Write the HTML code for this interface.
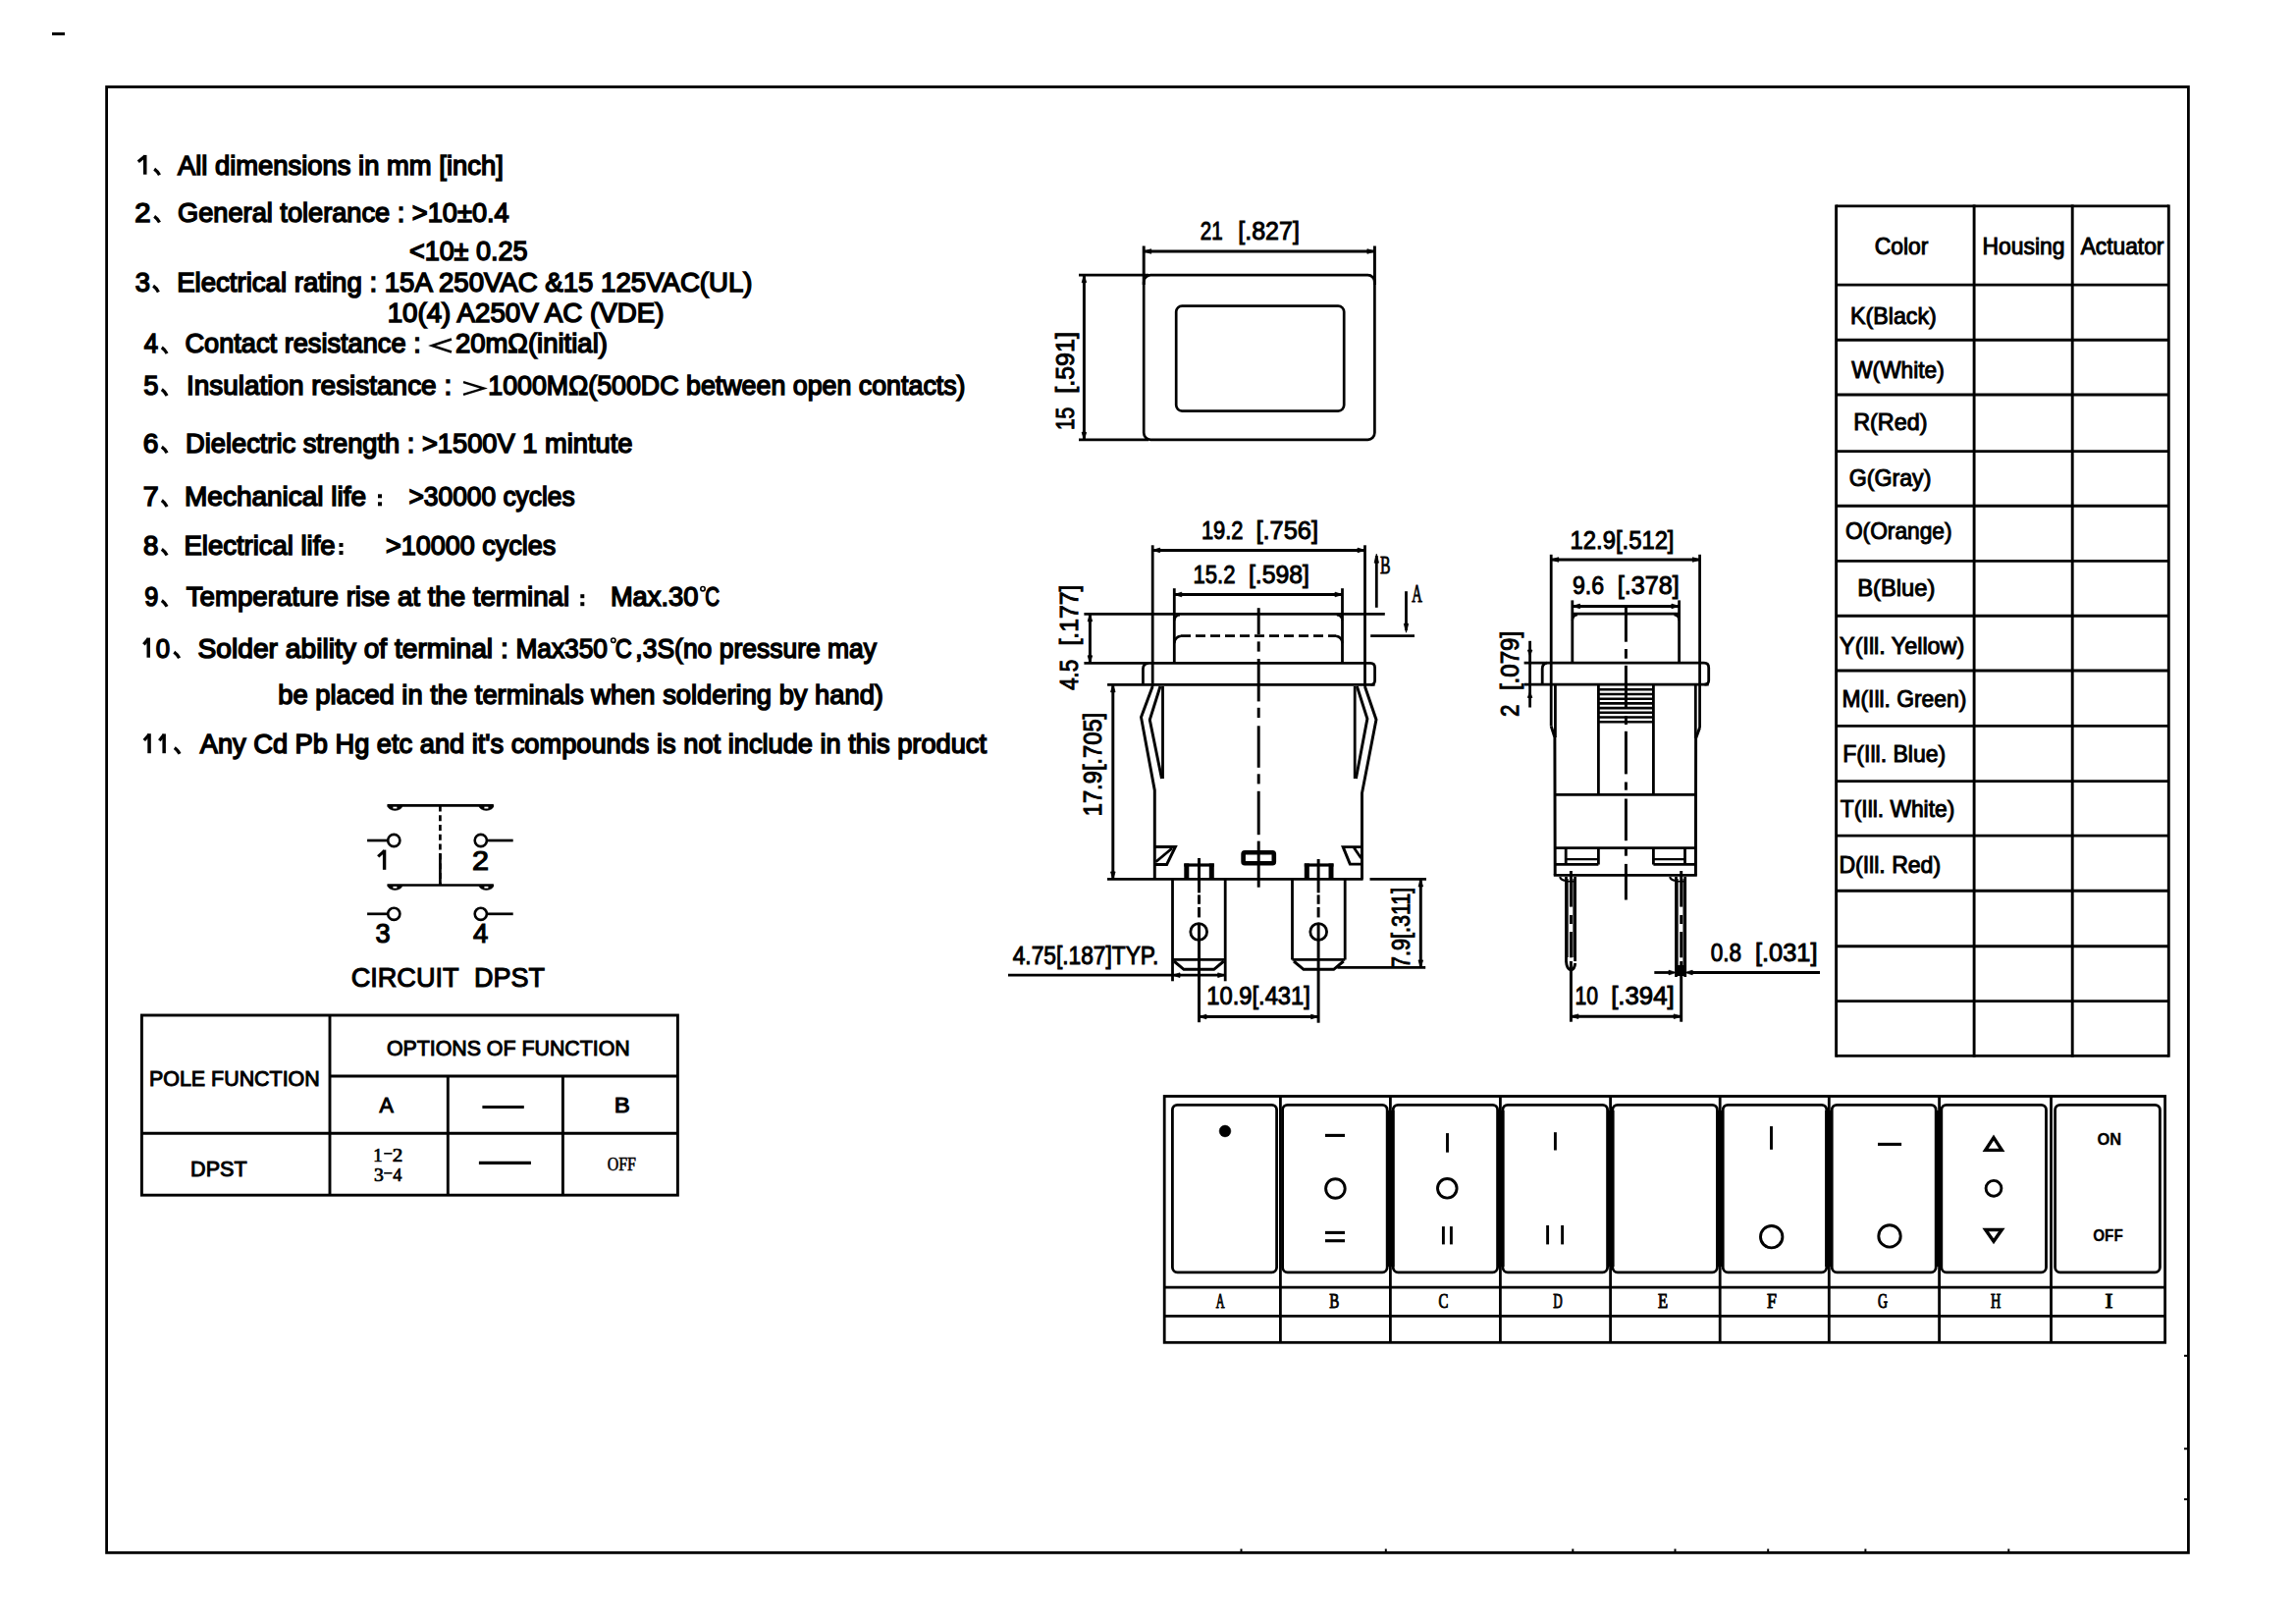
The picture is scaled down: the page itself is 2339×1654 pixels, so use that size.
<!DOCTYPE html>
<html><head><meta charset="utf-8"><title>Switch Drawing</title>
<style>html,body{margin:0;padding:0;background:#fff;} svg{display:block;}</style></head>
<body><svg width="2339" height="1654" viewBox="0 0 2339 1654">
<g stroke="#000" fill="none" stroke-linecap="butt">
<rect x="53" y="33" width="13" height="3" fill="#000" stroke="none"/>
<rect x="108.6" y="88.5" width="2120.8" height="1492.9" rx="0" stroke-width="2.8" fill="none"/>
<line x1="147.75" y1="157.90" x2="147.75" y2="177.70" stroke-width="3.5"/>
<line x1="140.80" y1="164.70" x2="147.75" y2="158.90" stroke-width="3.3"/>
<path d="M157.2,172.1 Q160.4,174.3 162.5,178.3" stroke-width="3.3" fill="none"/>
<path d="M157.2,220.4 Q160.4,222.6 162.5,226.6" stroke-width="3.3" fill="none"/>
<path d="M156.1,291.2 Q159.3,293.4 161.4,297.4" stroke-width="3.3" fill="none"/>
<path d="M164.8,353.8 Q168.0,356.0 170.1,360.0" stroke-width="3.3" fill="none"/>
<polyline points="460,345.5 440,352.0 460,358.5" stroke-width="2.4" fill="none"/>
<path d="M164.8,396.7 Q168.0,398.9 170.1,402.9" stroke-width="3.3" fill="none"/>
<polyline points="472,389.2 492.8,395.54999999999995 472,401.9" stroke-width="2.4" fill="none"/>
<path d="M164.8,455.1 Q168.0,457.3 170.1,461.3" stroke-width="3.3" fill="none"/>
<path d="M164.8,509.7 Q168.0,511.9 170.1,515.9" stroke-width="3.3" fill="none"/>
<rect x="385.0" y="503.3" width="4" height="4" fill="#000" stroke="none"/>
<rect x="385.0" y="511.3" width="4" height="4" fill="#000" stroke="none"/>
<path d="M164.8,559.4 Q168.0,561.6 170.1,565.6" stroke-width="3.3" fill="none"/>
<rect x="345.5" y="553.0" width="4" height="4" fill="#000" stroke="none"/>
<rect x="345.5" y="561.0" width="4" height="4" fill="#000" stroke="none"/>
<path d="M164.8,611.6 Q168.0,613.8 170.1,617.8" stroke-width="3.3" fill="none"/>
<rect x="591.3" y="605.2" width="4" height="4" fill="#000" stroke="none"/>
<rect x="591.3" y="613.2" width="4" height="4" fill="#000" stroke="none"/>
<circle cx="716.0" cy="599.7" r="2.2" stroke-width="1.6" fill="none"/>
<line x1="151.25" y1="649.60" x2="151.25" y2="669.70" stroke-width="3.5"/>
<line x1="146.40" y1="656.40" x2="151.25" y2="650.60" stroke-width="3.3"/>
<path d="M177.3,664.1 Q180.5,666.3 182.6,670.3" stroke-width="3.3" fill="none"/>
<circle cx="624.8" cy="652.2" r="2.2" stroke-width="1.6" fill="none"/>
<line x1="152.05" y1="747.20" x2="152.05" y2="767.20" stroke-width="3.5"/>
<line x1="146.80" y1="754.00" x2="152.05" y2="748.20" stroke-width="3.3"/>
<line x1="167.15" y1="747.40" x2="167.15" y2="767.20" stroke-width="3.5"/>
<line x1="162.30" y1="754.20" x2="167.15" y2="748.40" stroke-width="3.3"/>
<path d="M177.8,761.6 Q181.0,763.8 183.1,767.8" stroke-width="3.3" fill="none"/>
<line x1="394.5" y1="820.4" x2="502.8" y2="820.4" stroke-width="2.7"/>
<line x1="394.5" y1="901.5" x2="502.8" y2="901.5" stroke-width="2.7"/>
<path d="M394.9,820.4 A7.5,5 0 0 0 409.9,820.4 Z" stroke-width="0.5" fill="#000"/>
<rect x="400.4" y="821.6999999999999" width="4" height="1.8" fill="#fff" stroke="none"/>
<path d="M394.9,901.5 A7.5,5 0 0 0 409.9,901.5 Z" stroke-width="0.5" fill="#000"/>
<rect x="400.4" y="902.8" width="4" height="1.8" fill="#fff" stroke="none"/>
<path d="M487.9,820.4 A7.5,5 0 0 0 502.9,820.4 Z" stroke-width="0.5" fill="#000"/>
<rect x="493.4" y="821.6999999999999" width="4" height="1.8" fill="#fff" stroke="none"/>
<path d="M487.9,901.5 A7.5,5 0 0 0 502.9,901.5 Z" stroke-width="0.5" fill="#000"/>
<rect x="493.4" y="902.8" width="4" height="1.8" fill="#fff" stroke="none"/>
<line x1="448.4" y1="820.4" x2="448.4" y2="901.5" stroke-width="2.7" stroke-dasharray="6,3.8"/>
<line x1="448.4" y1="869" x2="448.4" y2="901.5" stroke-width="2.7"/>
<circle cx="401.3" cy="856" r="6.1" stroke-width="2.6" fill="none"/>
<circle cx="489.8" cy="856" r="6.1" stroke-width="2.6" fill="none"/>
<line x1="374.1" y1="856" x2="395.2" y2="856" stroke-width="2.7"/>
<line x1="495.9" y1="856" x2="522.7" y2="856" stroke-width="2.7"/>
<circle cx="401.3" cy="930.8" r="6.1" stroke-width="2.6" fill="none"/>
<circle cx="489.8" cy="930.8" r="6.1" stroke-width="2.6" fill="none"/>
<line x1="374.1" y1="930.8" x2="395.2" y2="930.8" stroke-width="2.7"/>
<line x1="495.9" y1="930.8" x2="522.7" y2="930.8" stroke-width="2.7"/>
<line x1="391.60" y1="865.60" x2="391.60" y2="885.80" stroke-width="3.4"/>
<line x1="385.20" y1="872.40" x2="391.60" y2="866.60" stroke-width="3.1999999999999997"/>
<rect x="144.4" y="1034" width="546.0" height="183.20000000000005" rx="0" stroke-width="2.9" fill="none"/>
<line x1="336" y1="1034" x2="336" y2="1217.2" stroke-width="2.9"/>
<line x1="336" y1="1096" x2="690.4" y2="1096" stroke-width="2.9"/>
<line x1="144.4" y1="1154.3" x2="690.4" y2="1154.3" stroke-width="2.9"/>
<line x1="456.3" y1="1096" x2="456.3" y2="1217.2" stroke-width="2.9"/>
<line x1="573.4" y1="1096" x2="573.4" y2="1217.2" stroke-width="2.9"/>
<line x1="491.4" y1="1127.6" x2="533.8" y2="1127.6" stroke-width="3"/>
<line x1="487.9" y1="1184.4" x2="540.9" y2="1184.4" stroke-width="3.2"/>
<line x1="391.2" y1="1174.8" x2="399.5" y2="1174.8" stroke-width="1.6"/>
<line x1="391.2" y1="1194.8" x2="399.5" y2="1194.8" stroke-width="1.6"/>
<line x1="1165.2" y1="250.5" x2="1165.2" y2="290" stroke-width="2.95"/>
<line x1="1400.4" y1="250.5" x2="1400.4" y2="290" stroke-width="2.95"/>
<line x1="1165.2" y1="256" x2="1400.4" y2="256" stroke-width="2.95"/>
<polygon points="1165.2,256.0 1172.7,253.7 1172.7,258.3" fill="#000" stroke="#000" stroke-width="0.8"/>
<polygon points="1400.4,256.0 1392.9,258.3 1392.9,253.7" fill="#000" stroke="#000" stroke-width="0.8"/>
<rect x="1165.2" y="280.2" width="235.2" height="167.6" rx="7" stroke-width="2.7" fill="none"/>
<rect x="1198.2" y="311.6" width="171" height="107" rx="6" stroke-width="2.7" fill="none"/>
<line x1="1099" y1="280.2" x2="1170" y2="280.2" stroke-width="2.8"/>
<line x1="1099" y1="447.8" x2="1170" y2="447.8" stroke-width="2.8"/>
<line x1="1104.4" y1="280.2" x2="1104.4" y2="447.8" stroke-width="2.95"/>
<polygon points="1104.4,280.2 1106.7,287.7 1102.1,287.7" fill="#000" stroke="#000" stroke-width="0.8"/>
<polygon points="1104.4,447.8 1102.1,440.3 1106.7,440.3" fill="#000" stroke="#000" stroke-width="0.8"/>
<line x1="1174.2" y1="560.4" x2="1390.5" y2="560.4" stroke-width="2.95"/>
<polygon points="1174.2,560.4 1181.7,558.1 1181.7,562.7" fill="#000" stroke="#000" stroke-width="0.8"/>
<polygon points="1390.5,560.4 1383.0,562.7 1383.0,558.1" fill="#000" stroke="#000" stroke-width="0.8"/>
<line x1="1174.2" y1="555.3" x2="1174.2" y2="699" stroke-width="2.8"/>
<line x1="1390.5" y1="555.3" x2="1390.5" y2="699" stroke-width="2.8"/>
<line x1="1196.3" y1="605.5" x2="1367.5" y2="605.5" stroke-width="2.95"/>
<polygon points="1196.3,605.5 1203.8,603.2 1203.8,607.8" fill="#000" stroke="#000" stroke-width="0.8"/>
<polygon points="1367.5,605.5 1360.0,607.8 1360.0,603.2" fill="#000" stroke="#000" stroke-width="0.8"/>
<line x1="1196.3" y1="599.2" x2="1196.3" y2="675.3" stroke-width="2.8"/>
<line x1="1367.5" y1="599.2" x2="1367.5" y2="675.3" stroke-width="2.8"/>
<line x1="1104.4" y1="625.3" x2="1410.8" y2="625.3" stroke-width="2.8"/>
<path d="M1196.3,632 Q1197,626.5 1202,626.3" stroke-width="2.2" fill="none"/>
<path d="M1367.5,632 Q1366.8,626.5 1361.8,626.3" stroke-width="2.2" fill="none"/>
<line x1="1203" y1="647.7" x2="1361" y2="647.7" stroke-width="2.8" stroke-dasharray="10,5"/>
<path d="M1196.3,655 Q1197,648.5 1203,647.7" stroke-width="2.4" fill="none"/>
<path d="M1367.5,655 Q1366.8,648.5 1361,647.7" stroke-width="2.4" fill="none"/>
<line x1="1396.2" y1="647.6" x2="1441" y2="647.6" stroke-width="2.8"/>
<line x1="1402.3" y1="566" x2="1402.3" y2="618.8" stroke-width="2.8"/>
<polygon points="1402.3,564.2 1404.5,573.2 1400.1,573.2" fill="#000" stroke="#000" stroke-width="0.8"/>
<line x1="1432.5" y1="602.2" x2="1432.5" y2="642" stroke-width="2.8"/>
<polygon points="1432.5,644.2 1430.3,635.2 1434.7,635.2" fill="#000" stroke="#000" stroke-width="0.8"/>
<line x1="1104.4" y1="675.3" x2="1396" y2="675.3" stroke-width="2.8"/>
<path d="M1396,675.3 Q1400.6,675.3 1400.6,680 L1400.6,693 Q1400.6,697.3 1396.5,697.3" stroke-width="2.8" fill="none"/>
<path d="M1170,675.3 Q1164.4,676 1164.4,681 L1164.4,697.3" stroke-width="2.8" fill="none"/>
<line x1="1128.1" y1="697.3" x2="1400.6" y2="697.3" stroke-width="2.8"/>
<line x1="1110.4" y1="625.3" x2="1110.4" y2="675.3" stroke-width="2.95"/>
<polygon points="1110.4,625.3 1112.7,632.8 1108.1,632.8" fill="#000" stroke="#000" stroke-width="0.8"/>
<polygon points="1110.4,675.3 1108.1,667.8 1112.7,667.8" fill="#000" stroke="#000" stroke-width="0.8"/>
<line x1="1133.8" y1="697.3" x2="1133.8" y2="895.4" stroke-width="2.95"/>
<polygon points="1133.8,697.3 1136.1,704.8 1131.5,704.8" fill="#000" stroke="#000" stroke-width="0.8"/>
<polygon points="1133.8,895.4 1131.5,887.9 1136.1,887.9" fill="#000" stroke="#000" stroke-width="0.8"/>
<polyline points="1174.2,699 1162.5,730.5 1176.3,805 1176.3,895.4" stroke-width="2.95" fill="none"/>
<polyline points="1182,699 1171.3,733 1183.5,793" stroke-width="2.95" fill="none"/>
<line x1="1184.5" y1="699" x2="1184.5" y2="793" stroke-width="2.8"/>
<polyline points="1390.4,699 1402,732.9 1387.5,807.8 1387.5,895.4" stroke-width="2.95" fill="none"/>
<polyline points="1382.4,699 1392.9,732 1381.4,793" stroke-width="2.95" fill="none"/>
<line x1="1380.2" y1="699" x2="1380.2" y2="793" stroke-width="2.8"/>
<line x1="1128" y1="895.4" x2="1388.6" y2="895.4" stroke-width="2.8"/>
<line x1="1395.5" y1="895.4" x2="1453" y2="895.4" stroke-width="2.8"/>
<polyline points="1176.3,862.5 1197.4,862.5 1188.6,880.4 1176.3,880.4" stroke-width="2.95" fill="none"/>
<line x1="1194" y1="864" x2="1177.5" y2="877.8" stroke-width="2.8"/>
<polyline points="1387.5,862.6 1368.2,862.6 1375.3,880.1 1387.5,880.1" stroke-width="2.95" fill="none"/>
<line x1="1379.4" y1="863.5" x2="1386.6" y2="874" stroke-width="2.8"/>
<rect x="1206.3" y="879.4" width="5" height="16" fill="#000" stroke="none"/>
<rect x="1231.8" y="879.4" width="5" height="16" fill="#000" stroke="none"/>
<rect x="1206.3" y="879.4" width="30.5" height="3.2" fill="#000" stroke="none"/>
<rect x="1328.8" y="879.4" width="5" height="16" fill="#000" stroke="none"/>
<rect x="1353.5" y="879.4" width="5" height="16" fill="#000" stroke="none"/>
<rect x="1328.8" y="879.4" width="29.7" height="3.2" fill="#000" stroke="none"/>
<rect x="1266.6" y="868.3" width="31.2" height="10.9" rx="1.5" stroke-width="4.6" fill="none"/>
<line x1="1194.5" y1="895.4" x2="1194.5" y2="999.3" stroke-width="2.8"/>
<line x1="1248.2" y1="895.4" x2="1248.2" y2="999.3" stroke-width="2.8"/>
<line x1="1194.5" y1="977.3" x2="1248.2" y2="977.3" stroke-width="2.8"/>
<polyline points="1196.0,979 1206.0,987.3 1236.7,987.3 1246.7,979" stroke-width="2.95" fill="none"/>
<circle cx="1221.2" cy="949" r="8.4" stroke-width="2.8" fill="none"/>
<line x1="1316.5" y1="895.4" x2="1316.5" y2="977.5" stroke-width="2.8"/>
<line x1="1370.2" y1="895.4" x2="1370.2" y2="977.5" stroke-width="2.8"/>
<line x1="1316.5" y1="977.3" x2="1370.2" y2="977.3" stroke-width="2.8"/>
<polyline points="1318.0,979 1328.0,987.3 1358.7,987.3 1368.7,979" stroke-width="2.95" fill="none"/>
<circle cx="1343.2" cy="949" r="8.4" stroke-width="2.8" fill="none"/>
<line x1="1221.5" y1="874" x2="1221.5" y2="909.3" stroke-width="2.95"/>
<line x1="1221.5" y1="911.4" x2="1221.5" y2="920.8" stroke-width="2.95"/>
<line x1="1221.5" y1="924" x2="1221.5" y2="934.4" stroke-width="2.95"/>
<line x1="1221.5" y1="940.5" x2="1221.5" y2="1041.2" stroke-width="2.95"/>
<line x1="1343.1" y1="875" x2="1343.1" y2="909.3" stroke-width="2.95"/>
<line x1="1343.1" y1="911.4" x2="1343.1" y2="920.8" stroke-width="2.95"/>
<line x1="1343.1" y1="924" x2="1343.1" y2="934.4" stroke-width="2.95"/>
<line x1="1343.1" y1="940.5" x2="1343.1" y2="1041.7" stroke-width="2.95"/>
<line x1="1027" y1="993.2" x2="1248.2" y2="993.2" stroke-width="2.8"/>
<polygon points="1194.5,993.2 1202.0,990.9 1202.0,995.5" fill="#000" stroke="#000" stroke-width="0.8"/>
<polygon points="1248.2,993.2 1240.7,995.5 1240.7,990.9" fill="#000" stroke="#000" stroke-width="0.8"/>
<line x1="1221.5" y1="1035.5" x2="1343.1" y2="1035.5" stroke-width="2.95"/>
<polygon points="1221.5,1035.5 1229.0,1033.2 1229.0,1037.8" fill="#000" stroke="#000" stroke-width="0.8"/>
<polygon points="1343.1,1035.5 1335.6,1037.8 1335.6,1033.2" fill="#000" stroke="#000" stroke-width="0.8"/>
<line x1="1362.4" y1="985.4" x2="1452.2" y2="985.4" stroke-width="2.8"/>
<line x1="1447.3" y1="895.4" x2="1447.3" y2="985.4" stroke-width="2.95"/>
<polygon points="1447.3,895.4 1449.6,902.9 1445.0,902.9" fill="#000" stroke="#000" stroke-width="0.8"/>
<polygon points="1447.3,985.4 1445.0,977.9 1449.6,977.9" fill="#000" stroke="#000" stroke-width="0.8"/>
<line x1="1282.2" y1="619.2" x2="1282.2" y2="646" stroke-width="2.95"/>
<line x1="1282.2" y1="653.4" x2="1282.2" y2="663.6" stroke-width="2.95"/>
<line x1="1282.2" y1="671" x2="1282.2" y2="714.4" stroke-width="2.95"/>
<line x1="1282.2" y1="720.8" x2="1282.2" y2="731" stroke-width="2.95"/>
<line x1="1282.2" y1="739.3" x2="1282.2" y2="781.8" stroke-width="2.95"/>
<line x1="1282.2" y1="788.3" x2="1282.2" y2="798.4" stroke-width="2.95"/>
<line x1="1282.2" y1="805.8" x2="1282.2" y2="850.2" stroke-width="2.95"/>
<line x1="1282.2" y1="856.6" x2="1282.2" y2="903.7" stroke-width="2.95"/>
<line x1="1580.2" y1="570" x2="1731.9" y2="570" stroke-width="2.95"/>
<polygon points="1580.2,570.0 1587.7,567.7 1587.7,572.3" fill="#000" stroke="#000" stroke-width="0.8"/>
<polygon points="1731.9,570.0 1724.4,572.3 1724.4,567.7" fill="#000" stroke="#000" stroke-width="0.8"/>
<line x1="1602" y1="617.4" x2="1710.4" y2="617.4" stroke-width="2.95"/>
<polygon points="1602.0,617.4 1609.5,615.1 1609.5,619.7" fill="#000" stroke="#000" stroke-width="0.8"/>
<polygon points="1710.4,617.4 1702.9,619.7 1702.9,615.1" fill="#000" stroke="#000" stroke-width="0.8"/>
<line x1="1580.2" y1="564.8" x2="1580.2" y2="739.6" stroke-width="2.8"/>
<line x1="1731.6" y1="564.8" x2="1731.6" y2="741" stroke-width="2.8"/>
<line x1="1601.8" y1="611.4" x2="1601.8" y2="675.2" stroke-width="2.8"/>
<line x1="1710.6" y1="611.4" x2="1710.6" y2="675.2" stroke-width="2.8"/>
<line x1="1601.8" y1="625.2" x2="1710.6" y2="625.2" stroke-width="2.8"/>
<path d="M1601.8,632 Q1602.5,626.5 1607,626.2" stroke-width="2.2" fill="none"/>
<path d="M1710.6,632 Q1709.9,626.5 1705.4,626.2" stroke-width="2.2" fill="none"/>
<line x1="1552.6" y1="675.2" x2="1736" y2="675.2" stroke-width="2.8"/>
<path d="M1736,675.2 Q1740.7,675.2 1740.7,680 L1740.7,693 Q1740.7,697.1 1736.5,697.1" stroke-width="2.8" fill="none"/>
<path d="M1576,675.2 Q1571.2,676 1571.2,681 L1571.2,697.1" stroke-width="2.8" fill="none"/>
<line x1="1552.6" y1="697.1" x2="1740.7" y2="697.1" stroke-width="2.8"/>
<line x1="1558.6" y1="652.8" x2="1558.6" y2="720.5" stroke-width="2.8"/>
<polygon points="1558.6,668.0 1556.3,662.0 1560.9,662.0" fill="#000" stroke="#000" stroke-width="0.8"/>
<polygon points="1558.6,704.5 1560.9,710.5 1556.3,710.5" fill="#000" stroke="#000" stroke-width="0.8"/>
<polyline points="1580.2,739.6 1583.9,751 1584.2,891.5" stroke-width="2.95" fill="none"/>
<line x1="1584.4" y1="697" x2="1584.4" y2="751" stroke-width="2.8"/>
<polyline points="1731.6,741 1727.6,752 1727.4,891.5" stroke-width="2.95" fill="none"/>
<line x1="1727.3" y1="697" x2="1727.3" y2="752" stroke-width="2.8"/>
<line x1="1628.4" y1="697" x2="1628.4" y2="809.4" stroke-width="2.8"/>
<line x1="1684.4" y1="697" x2="1684.4" y2="809.4" stroke-width="2.8"/>
<line x1="1628.4" y1="702.3" x2="1684.4" y2="702.3" stroke-width="2.6"/>
<line x1="1628.4" y1="707.0" x2="1684.4" y2="707.0" stroke-width="2.6"/>
<line x1="1628.4" y1="711.6999999999999" x2="1684.4" y2="711.6999999999999" stroke-width="2.6"/>
<line x1="1628.4" y1="716.4" x2="1684.4" y2="716.4" stroke-width="2.6"/>
<line x1="1628.4" y1="721.0999999999999" x2="1684.4" y2="721.0999999999999" stroke-width="2.6"/>
<line x1="1628.4" y1="725.8" x2="1684.4" y2="725.8" stroke-width="2.6"/>
<line x1="1628.4" y1="730.5" x2="1684.4" y2="730.5" stroke-width="2.6"/>
<line x1="1628.4" y1="735.1999999999999" x2="1684.4" y2="735.1999999999999" stroke-width="2.6"/>
<line x1="1584.4" y1="809.4" x2="1727.3" y2="809.4" stroke-width="2.8"/>
<line x1="1584.4" y1="863.6" x2="1727.3" y2="863.6" stroke-width="2.8"/>
<line x1="1595.2" y1="863.6" x2="1595.2" y2="880.5" stroke-width="2.8"/>
<line x1="1628.4" y1="863.6" x2="1628.4" y2="880.5" stroke-width="2.8"/>
<line x1="1595.2" y1="875.1" x2="1628.4" y2="875.1" stroke-width="2.4"/>
<line x1="1584.4" y1="880.3" x2="1628.4" y2="880.3" stroke-width="2.8"/>
<line x1="1684.4" y1="863.6" x2="1684.4" y2="880.5" stroke-width="2.8"/>
<line x1="1716.5" y1="863.6" x2="1716.5" y2="880.5" stroke-width="2.8"/>
<line x1="1684.4" y1="875.1" x2="1716.5" y2="875.1" stroke-width="2.4"/>
<line x1="1684.4" y1="880.3" x2="1727.3" y2="880.3" stroke-width="2.8"/>
<line x1="1582.8" y1="891.3" x2="1728.8" y2="891.3" stroke-width="2.8"/>
<line x1="1656.4" y1="617.5" x2="1656.4" y2="653.7" stroke-width="2.95"/>
<line x1="1656.4" y1="661" x2="1656.4" y2="670.7" stroke-width="2.95"/>
<line x1="1656.4" y1="677.8" x2="1656.4" y2="720.7" stroke-width="2.95"/>
<line x1="1656.4" y1="729" x2="1656.4" y2="738" stroke-width="2.95"/>
<line x1="1656.4" y1="744.8" x2="1656.4" y2="788.4" stroke-width="2.95"/>
<line x1="1656.4" y1="796.5" x2="1656.4" y2="804.7" stroke-width="2.95"/>
<line x1="1656.4" y1="813.5" x2="1656.4" y2="856.2" stroke-width="2.95"/>
<line x1="1656.4" y1="864.3" x2="1656.4" y2="871.7" stroke-width="2.95"/>
<line x1="1656.4" y1="879.9" x2="1656.4" y2="916.5" stroke-width="2.95"/>
<line x1="1595.5" y1="893" x2="1595.5" y2="979" stroke-width="2.8"/>
<line x1="1604.6" y1="893" x2="1604.6" y2="979" stroke-width="2.8"/>
<line x1="1597.1" y1="895" x2="1597.1" y2="975" stroke-width="1.2"/>
<line x1="1603.0" y1="895" x2="1603.0" y2="975" stroke-width="1.2"/>
<line x1="1595.5" y1="897.7" x2="1604.6" y2="897.7" stroke-width="1.6"/>
<line x1="1707.5" y1="893" x2="1707.5" y2="995" stroke-width="2.8"/>
<line x1="1716.7" y1="893" x2="1716.7" y2="995" stroke-width="2.8"/>
<line x1="1709.1" y1="895" x2="1709.1" y2="991" stroke-width="1.2"/>
<line x1="1715.1000000000001" y1="895" x2="1715.1000000000001" y2="991" stroke-width="1.2"/>
<line x1="1707.5" y1="897.7" x2="1716.7" y2="897.7" stroke-width="1.6"/>
<line x1="1600.4" y1="887" x2="1600.4" y2="923.6" stroke-width="2.95"/>
<line x1="1600.4" y1="932" x2="1600.4" y2="941" stroke-width="2.95"/>
<line x1="1600.4" y1="949" x2="1600.4" y2="975.3" stroke-width="2.95"/>
<line x1="1600.4" y1="979" x2="1600.4" y2="987.5" stroke-width="2.95"/>
<line x1="1600.4" y1="987.5" x2="1600.4" y2="1040.7" stroke-width="2.95"/>
<path d="M1595.5,979 Q1596,987 1600.2,988 Q1604.4,987 1604.6,981" stroke-width="2.95" fill="none"/>
<line x1="1712.7" y1="887" x2="1712.7" y2="923.6" stroke-width="2.95"/>
<line x1="1712.7" y1="932" x2="1712.7" y2="941" stroke-width="2.95"/>
<line x1="1712.7" y1="949" x2="1712.7" y2="975.3" stroke-width="2.95"/>
<line x1="1712.7" y1="979" x2="1712.7" y2="1040.7" stroke-width="2.95"/>
<rect x="1708" y="983" width="9" height="11" fill="#000" stroke="none"/>
<path d="M1589.2,893 Q1590,896.5 1595,896.8" stroke-width="2.2" fill="none"/>
<path d="M1701.2,893 Q1702,896.5 1707,896.8" stroke-width="2.2" fill="none"/>
<line x1="1600.4" y1="1035.2" x2="1712.7" y2="1035.2" stroke-width="2.95"/>
<polygon points="1600.4,1035.2 1607.9,1032.9 1607.9,1037.5" fill="#000" stroke="#000" stroke-width="0.8"/>
<polygon points="1712.7,1035.2 1705.2,1037.5 1705.2,1032.9" fill="#000" stroke="#000" stroke-width="0.8"/>
<line x1="1685.3" y1="990.5" x2="1700" y2="990.5" stroke-width="2.8"/>
<polygon points="1707.5,990.5 1700.0,992.8 1700.0,988.2" fill="#000" stroke="#000" stroke-width="0.8"/>
<line x1="1724" y1="990.5" x2="1854" y2="990.5" stroke-width="2.8"/>
<polygon points="1716.7,990.5 1724.2,988.2 1724.2,992.8" fill="#000" stroke="#000" stroke-width="0.8"/>
<line x1="1870.6" y1="208.5" x2="1870.6" y2="1076.8000000000002" stroke-width="2.9"/>
<line x1="2011.1" y1="208.5" x2="2011.1" y2="1076.8000000000002" stroke-width="2.9"/>
<line x1="2111.2" y1="208.5" x2="2111.2" y2="1076.8000000000002" stroke-width="2.9"/>
<line x1="2209.3" y1="208.5" x2="2209.3" y2="1076.8000000000002" stroke-width="2.9"/>
<line x1="1870.6" y1="209.9" x2="2209.3" y2="209.9" stroke-width="2.9"/>
<line x1="1870.6" y1="290.1" x2="2209.3" y2="290.1" stroke-width="2.9"/>
<line x1="1870.6" y1="346.3" x2="2209.3" y2="346.3" stroke-width="2.9"/>
<line x1="1870.6" y1="402.0" x2="2209.3" y2="402.0" stroke-width="2.9"/>
<line x1="1870.6" y1="459.6" x2="2209.3" y2="459.6" stroke-width="2.9"/>
<line x1="1870.6" y1="515.3" x2="2209.3" y2="515.3" stroke-width="2.9"/>
<line x1="1870.6" y1="571.4" x2="2209.3" y2="571.4" stroke-width="2.9"/>
<line x1="1870.6" y1="627.2" x2="2209.3" y2="627.2" stroke-width="2.9"/>
<line x1="1870.6" y1="683.0" x2="2209.3" y2="683.0" stroke-width="2.9"/>
<line x1="1870.6" y1="739.4" x2="2209.3" y2="739.4" stroke-width="2.9"/>
<line x1="1870.6" y1="795.6" x2="2209.3" y2="795.6" stroke-width="2.9"/>
<line x1="1870.6" y1="851.1" x2="2209.3" y2="851.1" stroke-width="2.9"/>
<line x1="1870.6" y1="907.3" x2="2209.3" y2="907.3" stroke-width="2.9"/>
<line x1="1870.6" y1="963.7" x2="2209.3" y2="963.7" stroke-width="2.9"/>
<line x1="1870.6" y1="1019.6" x2="2209.3" y2="1019.6" stroke-width="2.9"/>
<line x1="1870.6" y1="1075.4" x2="2209.3" y2="1075.4" stroke-width="2.9"/>
<rect x="1186.2" y="1116.5" width="1019.3999999999999" height="250.79999999999995" rx="0" stroke-width="2.8" fill="none"/>
<line x1="1186.2" y1="1311.2" x2="2205.6" y2="1311.2" stroke-width="2.8"/>
<line x1="1186.2" y1="1340.3" x2="2205.6" y2="1340.3" stroke-width="2.8"/>
<line x1="1304.4" y1="1116.5" x2="1304.4" y2="1367.3" stroke-width="2.8"/>
<line x1="1416.4" y1="1116.5" x2="1416.4" y2="1367.3" stroke-width="2.8"/>
<line x1="1528.4" y1="1116.5" x2="1528.4" y2="1367.3" stroke-width="2.8"/>
<line x1="1640.6" y1="1116.5" x2="1640.6" y2="1367.3" stroke-width="2.8"/>
<line x1="1752.2" y1="1116.5" x2="1752.2" y2="1367.3" stroke-width="2.8"/>
<line x1="1863.3" y1="1116.5" x2="1863.3" y2="1367.3" stroke-width="2.8"/>
<line x1="1975.6" y1="1116.5" x2="1975.6" y2="1367.3" stroke-width="2.8"/>
<line x1="2089.5" y1="1116.5" x2="2089.5" y2="1367.3" stroke-width="2.8"/>
<rect x="1194.4" y="1125.4" width="106.2" height="170.4" rx="5" stroke-width="2.8" fill="none"/>
<rect x="1306.6" y="1125.4" width="106.6" height="170.4" rx="5" stroke-width="2.8" fill="none"/>
<rect x="1419.2" y="1125.4" width="106.4" height="170.4" rx="5" stroke-width="2.8" fill="none"/>
<rect x="1530.9" y="1125.4" width="106.7" height="170.4" rx="5" stroke-width="2.8" fill="none"/>
<rect x="1642.8" y="1125.4" width="106.6" height="170.4" rx="5" stroke-width="2.8" fill="none"/>
<rect x="1755.2" y="1125.4" width="105.6" height="170.4" rx="5" stroke-width="2.8" fill="none"/>
<rect x="1866.2" y="1125.4" width="106.0" height="170.4" rx="5" stroke-width="2.8" fill="none"/>
<rect x="1977.8" y="1125.4" width="106.7" height="170.4" rx="5" stroke-width="2.8" fill="none"/>
<rect x="2093.6" y="1125.4" width="106.8" height="170.4" rx="5" stroke-width="2.8" fill="none"/>
<rect x="1412.2" y="1131" width="8.3" height="159" fill="#000" stroke="none"/>
<rect x="1525.3" y="1131" width="7.2" height="159" fill="#000" stroke="none"/>
<rect x="1637.3" y="1131" width="7.2" height="159" fill="#000" stroke="none"/>
<rect x="1750" y="1131" width="5.5" height="159" fill="#000" stroke="none"/>
<rect x="1859.2" y="1131" width="7.2" height="159" fill="#000" stroke="none"/>
<rect x="1971.2" y="1131" width="7.2" height="159" fill="#000" stroke="none"/>
<circle cx="1248" cy="1152" r="5.9" stroke-width="0.5" fill="#000"/>
<line x1="1350" y1="1156.4" x2="1370" y2="1156.4" stroke-width="3.1"/>
<circle cx="1360.4" cy="1210.5" r="9.8" stroke-width="2.9" fill="none"/>
<line x1="1350" y1="1255.4" x2="1370" y2="1255.4" stroke-width="3.1"/>
<line x1="1350" y1="1263.7" x2="1370" y2="1263.7" stroke-width="3.1"/>
<line x1="1474.5" y1="1154.1" x2="1474.5" y2="1173.7" stroke-width="2.9"/>
<circle cx="1474.3" cy="1210.3" r="9.8" stroke-width="2.9" fill="none"/>
<line x1="1470.4" y1="1249.1" x2="1470.4" y2="1267.4" stroke-width="2.9"/>
<line x1="1478.4" y1="1249.1" x2="1478.4" y2="1267.4" stroke-width="2.9"/>
<line x1="1584.4" y1="1153.2" x2="1584.4" y2="1171.5" stroke-width="2.9"/>
<line x1="1576.6" y1="1248" x2="1576.6" y2="1267.4" stroke-width="2.9"/>
<line x1="1591.6" y1="1248" x2="1591.6" y2="1267.4" stroke-width="2.9"/>
<line x1="1804.5" y1="1147.1" x2="1804.5" y2="1170.8" stroke-width="2.9"/>
<circle cx="1804.7" cy="1259.7" r="11.2" stroke-width="2.9" fill="none"/>
<line x1="1913" y1="1165.4" x2="1937.1" y2="1165.4" stroke-width="3.1"/>
<circle cx="1925" cy="1258.9" r="11.2" stroke-width="2.9" fill="none"/>
<polygon points="2031,1158.6 2039.3,1171.4 2022.7,1171.4" stroke-width="3.4" fill="none" stroke-linejoin="miter"/>
<circle cx="2031" cy="1210.3" r="7.9" stroke-width="2.9" fill="none"/>
<polygon points="2031,1264.2 2039.3,1252.5 2022.7,1252.5" stroke-width="3.4" fill="none" stroke-linejoin="miter"/>
<rect x="1263.5" y="1577.5" width="2" height="3" fill="#000" stroke="none"/>
<rect x="1410.8" y="1577.5" width="2" height="3" fill="#000" stroke="none"/>
<rect x="1601.3" y="1577.5" width="2" height="3" fill="#000" stroke="none"/>
<rect x="1705.5" y="1577.5" width="2" height="3" fill="#000" stroke="none"/>
<rect x="1800.2" y="1577.5" width="2" height="3" fill="#000" stroke="none"/>
<rect x="1899.4" y="1577.5" width="2" height="3" fill="#000" stroke="none"/>
<rect x="2045.3" y="1577.5" width="2" height="3" fill="#000" stroke="none"/>
<rect x="2225" y="1379.8" width="3" height="2" fill="#000" stroke="none"/>
<rect x="2225" y="1474.5" width="3" height="2" fill="#000" stroke="none"/>
<rect x="2225" y="1526" width="3" height="2" fill="#000" stroke="none"/>
</g>
<g fill="#000">
<text x="180.88" y="177.70" font-family="Liberation Sans" font-weight="normal" font-size="28" textLength="331.90" lengthAdjust="spacingAndGlyphs" stroke="#000" stroke-width="1.5">All dimensions in mm [inch]</text>
<text x="137.29" y="226.00" font-family="Liberation Sans" font-weight="normal" font-size="28" textLength="16.26" lengthAdjust="spacingAndGlyphs" stroke="#000" stroke-width="1.5">2</text>
<text x="181.09" y="226.00" font-family="Liberation Sans" font-weight="normal" font-size="28" textLength="337.63" lengthAdjust="spacingAndGlyphs" stroke="#000" stroke-width="1.5">General tolerance : &gt;10±0.4</text>
<text x="416.90" y="265.20" font-family="Liberation Sans" font-weight="normal" font-size="28" textLength="120.48" lengthAdjust="spacingAndGlyphs" stroke="#000" stroke-width="1.5">&lt;10± 0.25</text>
<text x="137.72" y="296.80" font-family="Liberation Sans" font-weight="normal" font-size="28" textLength="15.22" lengthAdjust="spacingAndGlyphs" stroke="#000" stroke-width="1.5">3</text>
<text x="180.17" y="296.80" font-family="Liberation Sans" font-weight="normal" font-size="28" textLength="586.32" lengthAdjust="spacingAndGlyphs" stroke="#000" stroke-width="1.5">Electrical rating : 15A 250VAC &amp;15 125VAC(UL)</text>
<text x="394.67" y="328.00" font-family="Liberation Sans" font-weight="normal" font-size="28" textLength="281.79" lengthAdjust="spacingAndGlyphs" stroke="#000" stroke-width="1.5">10(4) A250V AC (VDE)</text>
<text x="146.67" y="359.40" font-family="Liberation Sans" font-weight="normal" font-size="28" textLength="14.32" lengthAdjust="spacingAndGlyphs" stroke="#000" stroke-width="1.5">4</text>
<text x="188.39" y="359.40" font-family="Liberation Sans" font-weight="normal" font-size="28" textLength="240.31" lengthAdjust="spacingAndGlyphs" stroke="#000" stroke-width="1.5">Contact resistance :</text>
<text x="463.88" y="359.40" font-family="Liberation Sans" font-weight="normal" font-size="28" textLength="155.04" lengthAdjust="spacingAndGlyphs" stroke="#000" stroke-width="1.5">20mΩ(initial)</text>
<text x="146.16" y="402.30" font-family="Liberation Sans" font-weight="normal" font-size="28" textLength="15.22" lengthAdjust="spacingAndGlyphs" stroke="#000" stroke-width="1.5">5</text>
<text x="189.97" y="402.30" font-family="Liberation Sans" font-weight="normal" font-size="28" textLength="270.19" lengthAdjust="spacingAndGlyphs" stroke="#000" stroke-width="1.5">Insulation resistance :</text>
<text x="497.24" y="402.30" font-family="Liberation Sans" font-weight="normal" font-size="28" textLength="486.32" lengthAdjust="spacingAndGlyphs" stroke="#000" stroke-width="1.5">1000MΩ(500DC between open contacts)</text>
<text x="145.84" y="460.70" font-family="Liberation Sans" font-weight="normal" font-size="28" textLength="15.63" lengthAdjust="spacingAndGlyphs" stroke="#000" stroke-width="1.5">6</text>
<text x="189.00" y="460.70" font-family="Liberation Sans" font-weight="normal" font-size="28" textLength="455.44" lengthAdjust="spacingAndGlyphs" stroke="#000" stroke-width="1.5">Dielectric strength : &gt;1500V 1 mintute</text>
<text x="145.82" y="515.30" font-family="Liberation Sans" font-weight="normal" font-size="28" textLength="15.89" lengthAdjust="spacingAndGlyphs" stroke="#000" stroke-width="1.5">7</text>
<text x="188.04" y="515.30" font-family="Liberation Sans" font-weight="normal" font-size="28" textLength="185.05" lengthAdjust="spacingAndGlyphs" stroke="#000" stroke-width="1.5">Mechanical life</text>
<text x="416.43" y="515.30" font-family="Liberation Sans" font-weight="normal" font-size="28" textLength="169.27" lengthAdjust="spacingAndGlyphs" stroke="#000" stroke-width="1.5">&gt;30000 cycles</text>
<text x="146.07" y="565.00" font-family="Liberation Sans" font-weight="normal" font-size="28" textLength="15.38" lengthAdjust="spacingAndGlyphs" stroke="#000" stroke-width="1.5">8</text>
<text x="187.48" y="565.00" font-family="Liberation Sans" font-weight="normal" font-size="28" textLength="154.15" lengthAdjust="spacingAndGlyphs" stroke="#000" stroke-width="1.5">Electrical life</text>
<text x="392.90" y="565.00" font-family="Liberation Sans" font-weight="normal" font-size="28" textLength="173.32" lengthAdjust="spacingAndGlyphs" stroke="#000" stroke-width="1.5">&gt;10000 cycles</text>
<text x="147.35" y="617.20" font-family="Liberation Sans" font-weight="normal" font-size="28" textLength="14.07" lengthAdjust="spacingAndGlyphs" stroke="#000" stroke-width="1.5">9</text>
<text x="189.73" y="617.20" font-family="Liberation Sans" font-weight="normal" font-size="28" textLength="390.39" lengthAdjust="spacingAndGlyphs" stroke="#000" stroke-width="1.5">Temperature rise at the terminal</text>
<text x="621.90" y="617.20" font-family="Liberation Sans" font-weight="normal" font-size="28" textLength="89.42" lengthAdjust="spacingAndGlyphs" stroke="#000" stroke-width="1.5">Max.30</text>
<text x="718.23" y="617.20" font-family="Liberation Sans" font-weight="normal" font-size="28" textLength="14.78" lengthAdjust="spacingAndGlyphs" stroke="#000" stroke-width="1.5">C</text>
<text x="158.72" y="669.70" font-family="Liberation Sans" font-weight="normal" font-size="28" textLength="14.33" lengthAdjust="spacingAndGlyphs" stroke="#000" stroke-width="1.5">0</text>
<text x="201.58" y="669.70" font-family="Liberation Sans" font-weight="normal" font-size="28" textLength="316.20" lengthAdjust="spacingAndGlyphs" stroke="#000" stroke-width="1.5">Solder ability of terminal :</text>
<text x="525.38" y="669.70" font-family="Liberation Sans" font-weight="normal" font-size="28" textLength="93.61" lengthAdjust="spacingAndGlyphs" stroke="#000" stroke-width="1.5">Max350</text>
<text x="647.37" y="669.70" font-family="Liberation Sans" font-weight="normal" font-size="28" textLength="245.68" lengthAdjust="spacingAndGlyphs" stroke="#000" stroke-width="1.5">,3S(no pressure may</text>
<text x="626.87" y="669.70" font-family="Liberation Sans" font-weight="normal" font-size="28" textLength="17.00" lengthAdjust="spacingAndGlyphs" stroke="#000" stroke-width="1.5">C</text>
<text x="283.27" y="717.10" font-family="Liberation Sans" font-weight="normal" font-size="28" textLength="616.72" lengthAdjust="spacingAndGlyphs" stroke="#000" stroke-width="1.5">be placed in the terminals when soldering by hand)</text>
<text x="203.78" y="767.20" font-family="Liberation Sans" font-weight="normal" font-size="28" textLength="801.28" lengthAdjust="spacingAndGlyphs" stroke="#000" stroke-width="1.5">Any Cd Pb Hg etc and it's compounds is not include in this product</text>
<text x="480.97" y="885.80" font-family="Liberation Sans" font-weight="normal" font-size="28" textLength="16.99" lengthAdjust="spacingAndGlyphs" stroke="#000" stroke-width="1.2">2</text>
<text x="382.58" y="960.10" font-family="Liberation Sans" font-weight="normal" font-size="28" textLength="15.10" lengthAdjust="spacingAndGlyphs" stroke="#000" stroke-width="1.2">3</text>
<text x="481.88" y="960.10" font-family="Liberation Sans" font-weight="normal" font-size="28" textLength="15.31" lengthAdjust="spacingAndGlyphs" stroke="#000" stroke-width="1.2">4</text>
<text x="357.70" y="1005.00" font-family="Liberation Sans" font-weight="normal" font-size="28" textLength="109.87" lengthAdjust="spacingAndGlyphs" stroke="#000" stroke-width="1.1">CIRCUIT</text>
<text x="483.12" y="1005.00" font-family="Liberation Sans" font-weight="normal" font-size="28" textLength="71.99" lengthAdjust="spacingAndGlyphs" stroke="#000" stroke-width="1.1">DPST</text>
<text x="393.89" y="1075.20" font-family="Liberation Sans" font-weight="normal" font-size="22" textLength="247.85" lengthAdjust="spacingAndGlyphs" stroke="#000" stroke-width="1.0">OPTIONS OF FUNCTION</text>
<text x="152.03" y="1106.30" font-family="Liberation Sans" font-weight="normal" font-size="22" textLength="173.72" lengthAdjust="spacingAndGlyphs" stroke="#000" stroke-width="1.0">POLE FUNCTION</text>
<text x="386.45" y="1132.90" font-family="Liberation Sans" font-weight="normal" font-size="22" textLength="14.40" lengthAdjust="spacingAndGlyphs" stroke="#000" stroke-width="1.0">A</text>
<text x="625.72" y="1132.90" font-family="Liberation Sans" font-weight="normal" font-size="22" textLength="16.03" lengthAdjust="spacingAndGlyphs" stroke="#000" stroke-width="1.0">B</text>
<text x="194.12" y="1197.70" font-family="Liberation Sans" font-weight="normal" font-size="22" textLength="57.51" lengthAdjust="spacingAndGlyphs" stroke="#000" stroke-width="1.0">DPST</text>
<text x="380.21" y="1182.80" font-family="Liberation Serif" font-weight="normal" font-size="18" textLength="9.36" lengthAdjust="spacingAndGlyphs" stroke="#000" stroke-width="0.7">1</text>
<text x="399.65" y="1182.80" font-family="Liberation Serif" font-weight="normal" font-size="18" textLength="10.56" lengthAdjust="spacingAndGlyphs" stroke="#000" stroke-width="0.7">2</text>
<text x="380.92" y="1202.60" font-family="Liberation Serif" font-weight="normal" font-size="18" textLength="9.82" lengthAdjust="spacingAndGlyphs" stroke="#000" stroke-width="0.7">3</text>
<text x="400.18" y="1202.60" font-family="Liberation Serif" font-weight="normal" font-size="18" textLength="9.14" lengthAdjust="spacingAndGlyphs" stroke="#000" stroke-width="0.7">4</text>
<text x="618.66" y="1191.50" font-family="Liberation Serif" font-weight="normal" font-size="19" textLength="29.23" lengthAdjust="spacingAndGlyphs" stroke="#000" stroke-width="0.6">OFF</text>
<text x="1222.77" y="244.40" font-family="Liberation Sans" font-weight="normal" font-size="26" textLength="22.85" lengthAdjust="spacingAndGlyphs" stroke="#000" stroke-width="1.0">21</text>
<text x="1261.25" y="244.40" font-family="Liberation Sans" font-weight="normal" font-size="26" textLength="62.59" lengthAdjust="spacingAndGlyphs" stroke="#000" stroke-width="1.0">[.827]</text>
<text transform="translate(1093.60,437.00) rotate(-90)" x="-1.07" y="0" font-family="Liberation Sans" font-weight="normal" font-size="26" textLength="23.25" lengthAdjust="spacingAndGlyphs" stroke="#000" stroke-width="1.0">15</text>
<text transform="translate(1093.60,399.50) rotate(-90)" x="-1.25" y="0" font-family="Liberation Sans" font-weight="normal" font-size="26" textLength="62.59" lengthAdjust="spacingAndGlyphs" stroke="#000" stroke-width="1.0">[.591]</text>
<text x="1223.96" y="548.80" font-family="Liberation Sans" font-weight="normal" font-size="26" textLength="42.56" lengthAdjust="spacingAndGlyphs" stroke="#000" stroke-width="1.0">19.2</text>
<text x="1279.52" y="548.80" font-family="Liberation Sans" font-weight="normal" font-size="26" textLength="63.54" lengthAdjust="spacingAndGlyphs" stroke="#000" stroke-width="1.0">[.756]</text>
<text x="1215.55" y="593.70" font-family="Liberation Sans" font-weight="normal" font-size="26" textLength="42.88" lengthAdjust="spacingAndGlyphs" stroke="#000" stroke-width="1.0">15.2</text>
<text x="1271.97" y="593.70" font-family="Liberation Sans" font-weight="normal" font-size="26" textLength="62.01" lengthAdjust="spacingAndGlyphs" stroke="#000" stroke-width="1.0">[.598]</text>
<text x="1406.02" y="583.90" font-family="Liberation Serif" font-weight="normal" font-size="25" textLength="10.51" lengthAdjust="spacingAndGlyphs" stroke="#000" stroke-width="0.9">B</text>
<text x="1438.20" y="612.70" font-family="Liberation Serif" font-weight="normal" font-size="25" textLength="10.55" lengthAdjust="spacingAndGlyphs" stroke="#000" stroke-width="0.9">A</text>
<text transform="translate(1097.90,702.80) rotate(-90)" x="-0.00" y="0" font-family="Liberation Sans" font-weight="normal" font-size="26" textLength="31.00" lengthAdjust="spacingAndGlyphs" stroke="#000" stroke-width="1.0">4.5</text>
<text transform="translate(1097.90,656.30) rotate(-90)" x="-1.23" y="0" font-family="Liberation Sans" font-weight="normal" font-size="26" textLength="61.96" lengthAdjust="spacingAndGlyphs" stroke="#000" stroke-width="1.0">[.177]</text>
<text transform="translate(1121.80,830.00) rotate(-90)" x="-1.28" y="0" font-family="Liberation Sans" font-weight="normal" font-size="26" textLength="105.46" lengthAdjust="spacingAndGlyphs" stroke="#000" stroke-width="1.0">17.9[.705]</text>
<text x="1031.69" y="982.00" font-family="Liberation Sans" font-weight="normal" font-size="26" textLength="148.65" lengthAdjust="spacingAndGlyphs" stroke="#000" stroke-width="1.0">4.75[.187]TYP.</text>
<text x="1229.32" y="1023.00" font-family="Liberation Sans" font-weight="normal" font-size="26" textLength="105.46" lengthAdjust="spacingAndGlyphs" stroke="#000" stroke-width="1.0">10.9[.431]</text>
<text transform="translate(1436.00,985.40) rotate(-90)" x="-0.58" y="0" font-family="Liberation Sans" font-weight="normal" font-size="26" textLength="82.30" lengthAdjust="spacingAndGlyphs" stroke="#000" stroke-width="1.0">7.9[.311]</text>
<text x="1599.61" y="558.80" font-family="Liberation Sans" font-weight="normal" font-size="26" textLength="105.87" lengthAdjust="spacingAndGlyphs" stroke="#000" stroke-width="1.0">12.9[.512]</text>
<text x="1602.00" y="605.30" font-family="Liberation Sans" font-weight="normal" font-size="26" textLength="32.08" lengthAdjust="spacingAndGlyphs" stroke="#000" stroke-width="1.0">9.6</text>
<text x="1647.84" y="605.30" font-family="Liberation Sans" font-weight="normal" font-size="26" textLength="62.91" lengthAdjust="spacingAndGlyphs" stroke="#000" stroke-width="1.0">[.378]</text>
<text transform="translate(1546.60,729.50) rotate(-90)" x="-0.62" y="0" font-family="Liberation Sans" font-weight="normal" font-size="26" textLength="12.47" lengthAdjust="spacingAndGlyphs" stroke="#000" stroke-width="1.0">2</text>
<text transform="translate(1546.60,701.90) rotate(-90)" x="-1.18" y="0" font-family="Liberation Sans" font-weight="normal" font-size="26" textLength="60.16" lengthAdjust="spacingAndGlyphs" stroke="#000" stroke-width="1.0">[.079]</text>
<text x="1604.51" y="1023.20" font-family="Liberation Sans" font-weight="normal" font-size="26" textLength="23.53" lengthAdjust="spacingAndGlyphs" stroke="#000" stroke-width="1.0">10</text>
<text x="1641.20" y="1023.20" font-family="Liberation Sans" font-weight="normal" font-size="26" textLength="64.50" lengthAdjust="spacingAndGlyphs" stroke="#000" stroke-width="1.0">[.394]</text>
<text x="1742.70" y="978.80" font-family="Liberation Sans" font-weight="normal" font-size="26" textLength="31.37" lengthAdjust="spacingAndGlyphs" stroke="#000" stroke-width="1.0">0.8</text>
<text x="1788.03" y="978.80" font-family="Liberation Sans" font-weight="normal" font-size="26" textLength="63.44" lengthAdjust="spacingAndGlyphs" stroke="#000" stroke-width="1.0">[.031]</text>
<text x="1909.76" y="258.90" font-family="Liberation Sans" font-weight="normal" font-size="24" textLength="54.58" lengthAdjust="spacingAndGlyphs" stroke="#000" stroke-width="1.0">Color</text>
<text x="2019.51" y="258.90" font-family="Liberation Sans" font-weight="normal" font-size="24" textLength="83.95" lengthAdjust="spacingAndGlyphs" stroke="#000" stroke-width="1.0">Housing</text>
<text x="2119.64" y="258.90" font-family="Liberation Sans" font-weight="normal" font-size="24" textLength="84.84" lengthAdjust="spacingAndGlyphs" stroke="#000" stroke-width="1.0">Actuator</text>
<text x="1885.09" y="329.60" font-family="Liberation Sans" font-weight="normal" font-size="24" textLength="87.62" lengthAdjust="spacingAndGlyphs" stroke="#000" stroke-width="1.0">K(Black)</text>
<text x="1886.19" y="384.90" font-family="Liberation Sans" font-weight="normal" font-size="24" textLength="94.50" lengthAdjust="spacingAndGlyphs" stroke="#000" stroke-width="1.0">W(White)</text>
<text x="1888.28" y="437.90" font-family="Liberation Sans" font-weight="normal" font-size="24" textLength="75.13" lengthAdjust="spacingAndGlyphs" stroke="#000" stroke-width="1.0">R(Red)</text>
<text x="1883.74" y="494.80" font-family="Liberation Sans" font-weight="normal" font-size="24" textLength="83.67" lengthAdjust="spacingAndGlyphs" stroke="#000" stroke-width="1.0">G(Gray)</text>
<text x="1879.92" y="549.10" font-family="Liberation Sans" font-weight="normal" font-size="24" textLength="108.63" lengthAdjust="spacingAndGlyphs" stroke="#000" stroke-width="1.0">O(Orange)</text>
<text x="1892.24" y="607.40" font-family="Liberation Sans" font-weight="normal" font-size="24" textLength="79.17" lengthAdjust="spacingAndGlyphs" stroke="#000" stroke-width="1.0">B(Blue)</text>
<text x="1874.07" y="665.60" font-family="Liberation Sans" font-weight="normal" font-size="24" textLength="127.11" lengthAdjust="spacingAndGlyphs" stroke="#000" stroke-width="1.0">Y(Ill. Yellow)</text>
<text x="1876.42" y="720.20" font-family="Liberation Sans" font-weight="normal" font-size="24" textLength="126.88" lengthAdjust="spacingAndGlyphs" stroke="#000" stroke-width="1.0">M(Ill. Green)</text>
<text x="1877.30" y="776.10" font-family="Liberation Sans" font-weight="normal" font-size="24" textLength="104.91" lengthAdjust="spacingAndGlyphs" stroke="#000" stroke-width="1.0">F(Ill. Blue)</text>
<text x="1874.79" y="831.90" font-family="Liberation Sans" font-weight="normal" font-size="24" textLength="116.50" lengthAdjust="spacingAndGlyphs" stroke="#000" stroke-width="1.0">T(Ill. White)</text>
<text x="1873.40" y="889.20" font-family="Liberation Sans" font-weight="normal" font-size="24" textLength="103.70" lengthAdjust="spacingAndGlyphs" stroke="#000" stroke-width="1.0">D(Ill. Red)</text>
<text x="2136.39" y="1166.00" font-family="Liberation Sans" font-weight="bold" font-size="17" textLength="24.67" lengthAdjust="spacingAndGlyphs" stroke="#000" stroke-width="0.3">ON</text>
<text x="2132.24" y="1264.10" font-family="Liberation Sans" font-weight="bold" font-size="17" textLength="30.47" lengthAdjust="spacingAndGlyphs" stroke="#000" stroke-width="0.3">OFF</text>
<text x="1238.78" y="1331.80" font-family="Liberation Serif" font-weight="normal" font-size="21" textLength="8.81" lengthAdjust="spacingAndGlyphs" stroke="#000" stroke-width="1.0">A</text>
<text x="1354.29" y="1331.80" font-family="Liberation Serif" font-weight="normal" font-size="21" textLength="10.06" lengthAdjust="spacingAndGlyphs" stroke="#000" stroke-width="1.0">B</text>
<text x="1465.61" y="1331.80" font-family="Liberation Serif" font-weight="normal" font-size="21" textLength="9.90" lengthAdjust="spacingAndGlyphs" stroke="#000" stroke-width="1.0">C</text>
<text x="1582.14" y="1331.80" font-family="Liberation Serif" font-weight="normal" font-size="21" textLength="9.48" lengthAdjust="spacingAndGlyphs" stroke="#000" stroke-width="1.0">D</text>
<text x="1689.05" y="1331.80" font-family="Liberation Serif" font-weight="normal" font-size="21" textLength="10.09" lengthAdjust="spacingAndGlyphs" stroke="#000" stroke-width="1.0">E</text>
<text x="1800.01" y="1331.80" font-family="Liberation Serif" font-weight="normal" font-size="21" textLength="9.94" lengthAdjust="spacingAndGlyphs" stroke="#000" stroke-width="1.0">F</text>
<text x="1912.95" y="1331.80" font-family="Liberation Serif" font-weight="normal" font-size="21" textLength="10.00" lengthAdjust="spacingAndGlyphs" stroke="#000" stroke-width="1.0">G</text>
<text x="2028.11" y="1331.80" font-family="Liberation Serif" font-weight="normal" font-size="21" textLength="10.32" lengthAdjust="spacingAndGlyphs" stroke="#000" stroke-width="1.0">H</text>
<text x="2144.47" y="1331.80" font-family="Liberation Serif" font-weight="normal" font-size="21" textLength="7.87" lengthAdjust="spacingAndGlyphs" stroke="#000" stroke-width="1.0">I</text>
</g>
</svg></body></html>
